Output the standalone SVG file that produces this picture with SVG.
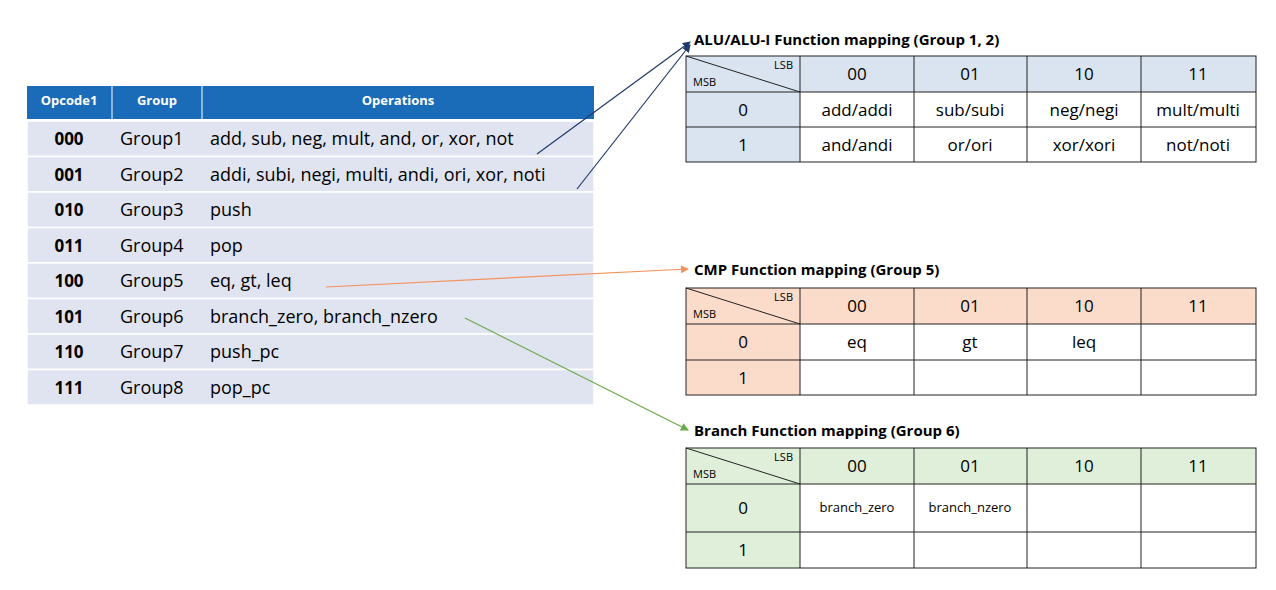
<svg xmlns="http://www.w3.org/2000/svg" width="1276" height="590" viewBox="0 0 1276 590">
<style>
text{font-family:"Open Sans","Liberation Sans",sans-serif;fill:#000}
.h{font-size:13px;font-weight:bold;fill:#fff}
.op{font-size:17px;font-weight:bold}
.c{font-size:17px}
.r{font-size:18px}
.t{font-size:15px;font-weight:bold}
.g{stroke:#222;stroke-width:1;fill:none}
.s{font-size:11px}
.m{font-size:17px}
.sm{font-size:13px}
</style>
<defs>
<marker id="ab" markerWidth="8" markerHeight="8" refX="7" refY="4" orient="auto" markerUnits="userSpaceOnUse"><path d="M0,0L8,4L0,8z" fill="#1f3a68"/></marker>
<marker id="ao" markerWidth="8" markerHeight="8" refX="7" refY="4" orient="auto" markerUnits="userSpaceOnUse"><path d="M0,0L8,4L0,8z" fill="#f4925e"/></marker>
<marker id="ag" markerWidth="8" markerHeight="8" refX="7" refY="4" orient="auto" markerUnits="userSpaceOnUse"><path d="M0,0L8,4L0,8z" fill="#6aab4a"/></marker>
</defs>
<rect width="1276" height="590" fill="#fff"/>
<g id="opcode-table">
<rect x="27" y="86" width="567" height="33" fill="#1a6bb8"/>
<line x1="112" y1="86" x2="112" y2="119" stroke="#fff"/>
<line x1="202" y1="86" x2="202" y2="119" stroke="#fff"/>
<text class="h" x="69" y="105" text-anchor="middle">Opcode1</text>
<text class="h" x="157" y="105" text-anchor="middle">Group</text>
<text class="h" x="398" y="105" text-anchor="middle">Operations</text>
<g fill="#e0e4f0" stroke="#fff" stroke-width="1.5">
<rect x="27" y="121" width="567" height="35.5"/>
<rect x="27" y="156.5" width="567" height="35.5"/>
<rect x="27" y="192" width="567" height="35.5"/>
<rect x="27" y="227.5" width="567" height="35.5"/>
<rect x="27" y="263" width="567" height="35.5"/>
<rect x="27" y="298.5" width="567" height="35.5"/>
<rect x="27" y="334" width="567" height="35.5"/>
<rect x="27" y="369.5" width="567" height="35.5"/>
</g>
<g text-anchor="middle">
<text class="op" x="69" y="145">000</text><text class="op" x="69" y="181">001</text><text class="op" x="69" y="216">010</text><text class="op" x="69" y="252">011</text><text class="op" x="69" y="287">100</text><text class="op" x="69" y="323">101</text><text class="op" x="69" y="358">110</text><text class="op" x="69" y="394">111</text>
</g>
<text class="r" x="120" y="145">Group1</text><text class="r" x="120" y="181">Group2</text><text class="r" x="120" y="216">Group3</text><text class="r" x="120" y="252">Group4</text><text class="r" x="120" y="287">Group5</text><text class="r" x="120" y="323">Group6</text><text class="r" x="120" y="358">Group7</text><text class="r" x="120" y="394">Group8</text>
<text class="r" x="210" y="145">add, sub, neg, mult, and, or, xor, not</text>
<text class="r" x="210" y="181">addi, subi, negi, multi, andi, ori, xor, noti</text>
<text class="r" x="210" y="216">push</text>
<text class="r" x="210" y="252">pop</text>
<text class="r" x="210" y="287">eq, gt, leq</text>
<text class="r" x="210" y="323">branch_zero, branch_nzero</text>
<text class="r" x="210" y="358">push_pc</text>
<text class="r" x="210" y="394">pop_pc</text>
</g>
<g id="alu-table">
<text class="t" x="694" y="45">ALU/ALU-I Function mapping (Group 1, 2)</text>
<rect x="686" y="56" width="570" height="36" fill="#dae3f0"/>
<rect x="686" y="92" width="114" height="70" fill="#dae3f0"/>
<rect x="686" y="56" width="570" height="106" class="g"/>
<path class="g" d="M686 92H1256M686 127H1256M800 56V162M914 56V162M1027 56V162M1141 56V162M686 56L800 92"/>
<text class="s" x="693" y="86">MSB</text><text class="s" x="793" y="69" text-anchor="end">LSB</text>
<g text-anchor="middle">
<text class="m" x="857" y="80">00</text><text class="m" x="970" y="80">01</text><text class="m" x="1084" y="80">10</text><text class="m" x="1198" y="80">11</text>
<text class="m" x="743" y="116">0</text><text class="m" x="743" y="151">1</text>
<text class="c" x="857" y="116">add/addi</text><text class="c" x="970" y="116">sub/subi</text><text class="c" x="1084" y="116">neg/negi</text><text class="c" x="1198" y="116">mult/multi</text>
<text class="c" x="857" y="151">and/andi</text><text class="c" x="970" y="151">or/ori</text><text class="c" x="1084" y="151">xor/xori</text><text class="c" x="1198" y="151">not/noti</text>
</g>
</g>
<g id="cmp-table">
<text class="t" x="694" y="275">CMP Function mapping (Group 5)</text>
<rect x="686" y="288" width="570" height="36" fill="#fbdcca"/>
<rect x="686" y="324" width="114" height="71" fill="#fbdcca"/>
<rect x="686" y="288" width="570" height="107" class="g"/>
<path class="g" d="M686 324H1256M686 360H1256M800 288V395M914 288V395M1027 288V395M1141 288V395M686 288L800 324"/>
<text class="s" x="693" y="318">MSB</text><text class="s" x="793" y="301" text-anchor="end">LSB</text>
<g text-anchor="middle">
<text class="m" x="857" y="312">00</text><text class="m" x="970" y="312">01</text><text class="m" x="1084" y="312">10</text><text class="m" x="1198" y="312">11</text>
<text class="m" x="743" y="348">0</text><text class="m" x="743" y="384">1</text>
<text class="c" x="857" y="348">eq</text><text class="c" x="970" y="348">gt</text><text class="c" x="1084" y="348">leq</text>
</g>
</g>
<g id="branch-table">
<text class="t" x="694" y="436">Branch Function mapping (Group 6)</text>
<rect x="686" y="448" width="570" height="36" fill="#e0efd9"/>
<rect x="686" y="484" width="114" height="84" fill="#e0efd9"/>
<rect x="686" y="448" width="570" height="120" class="g"/>
<path class="g" d="M686 484H1256M686 532H1256M800 448V568M914 448V568M1027 448V568M1141 448V568M686 448L800 484"/>
<text class="s" x="693" y="478">MSB</text><text class="s" x="793" y="461" text-anchor="end">LSB</text>
<g text-anchor="middle">
<text class="m" x="857" y="472">00</text><text class="m" x="970" y="472">01</text><text class="m" x="1084" y="472">10</text><text class="m" x="1198" y="472">11</text>
<text class="m" x="743" y="514">0</text><text class="m" x="743" y="556">1</text>
<text class="sm" x="857" y="512">branch_zero</text><text class="sm" x="970" y="512">branch_nzero</text>
</g>
</g>
<g id="connectors" fill="none" stroke-width="1.2">
<line x1="537" y1="154" x2="690" y2="42" stroke="#1f3a68" marker-end="url(#ab)"/>
<line x1="577" y1="189" x2="690" y2="45" stroke="#1f3a68" marker-end="url(#ab)"/>
<line x1="326" y1="287" x2="688" y2="269" stroke="#f4925e" marker-end="url(#ao)"/>
<line x1="465" y1="318" x2="688" y2="430" stroke="#6aab4a" marker-end="url(#ag)"/>
</g>
</svg>
